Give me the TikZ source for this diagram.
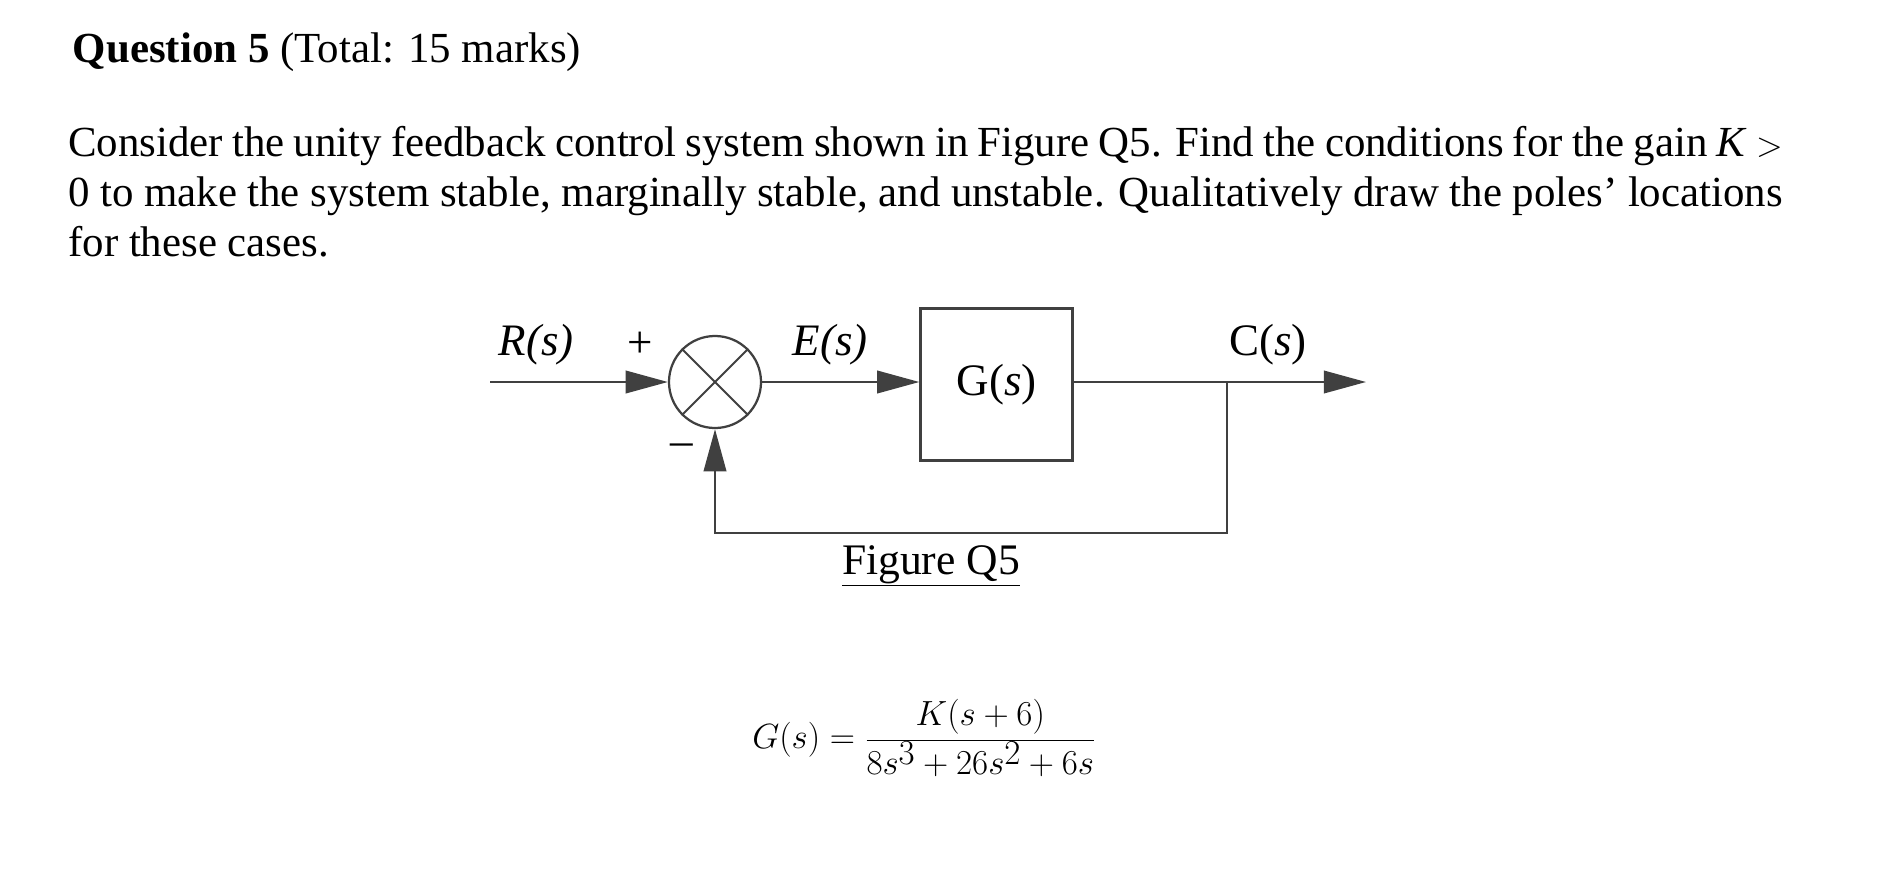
\documentclass[tikz,border=0pt]{standalone}
\usepackage{fontspec}
\setmainfont{Liberation Serif}
\usetikzlibrary{arrows.meta}
\begin{document}
\begin{tikzpicture}[x=0.025cm,y=-0.025cm,
  sig/.style={draw=black!75,line width=1.6pt},
  arr/.style={sig,-{Triangle[length=30pt,width=16pt]}},
  lbl/.style={font=\fontsize{32}{36}\selectfont\itshape},
  body/.style={font=\fontsize{30.5}{35.5}\selectfont}]
\useasboundingbox (0,0) rectangle (1882,876);
\node[body,anchor=base west] (title) at (68,62) {\textbf{Question 5} (Total: 15 marks)};
\node[body,anchor=north west,inner sep=0,text width=42.85cm,align=justify] (para) at (68,126)
 {Consider the unity feedback control system shown in Figure Q5. Find the conditions for the gain \textit{K} $>$ 0 to make the system stable, marginally stable, and unstable. Qualitatively draw the poles' locations for these cases.};
\coordinate (rin) at (490,382);
\node[circle,draw=black!75,line width=1.6pt,minimum size=2.3cm,inner sep=0] (sum) at (715,382) {};
\draw[black!75,line width=1.4pt] (sum.north west)--(sum.south east) (sum.north east)--(sum.south west);
\node[draw=black!75,line width=2.2pt,minimum width=3.78cm,minimum height=3.78cm,lbl] (G) at (996.5,384.5) {\textup{G(}s\textup{)}};
\coordinate (br) at (1227,382);
\coordinate (out) at (1366,382);
\coordinate (bot) at (1227,533);
\draw[arr] (rin) -- (sum.west);
\draw[arr] (sum.east) -- (G.west |- sum.east);
\draw[arr] (G.east |- br) -- (out);
\draw[arr] (br) -- (bot) -| (sum.south);
\node[lbl] (R) at (536,345) {R(s)};
\node[lbl] (plus) at (640,345) {\upshape +};
\node[lbl] (E) at (830,345) {E(s)};
\node[lbl] (C) at (1268,345) {\textup{C(}s\textup{)}};
\node[lbl] (minus) at (682,450) {\upshape –};
\node[font=\fontsize{31}{36}\selectfont] (fig) at (931,566) {\underline{Figure Q5}};
\node[font=\fontsize{34}{40}\selectfont] (eq) at (924,738) {$G(s)=\displaystyle\frac{K(s+6)}{8s^3+26s^2+6s}$};
\end{tikzpicture}
\end{document}
